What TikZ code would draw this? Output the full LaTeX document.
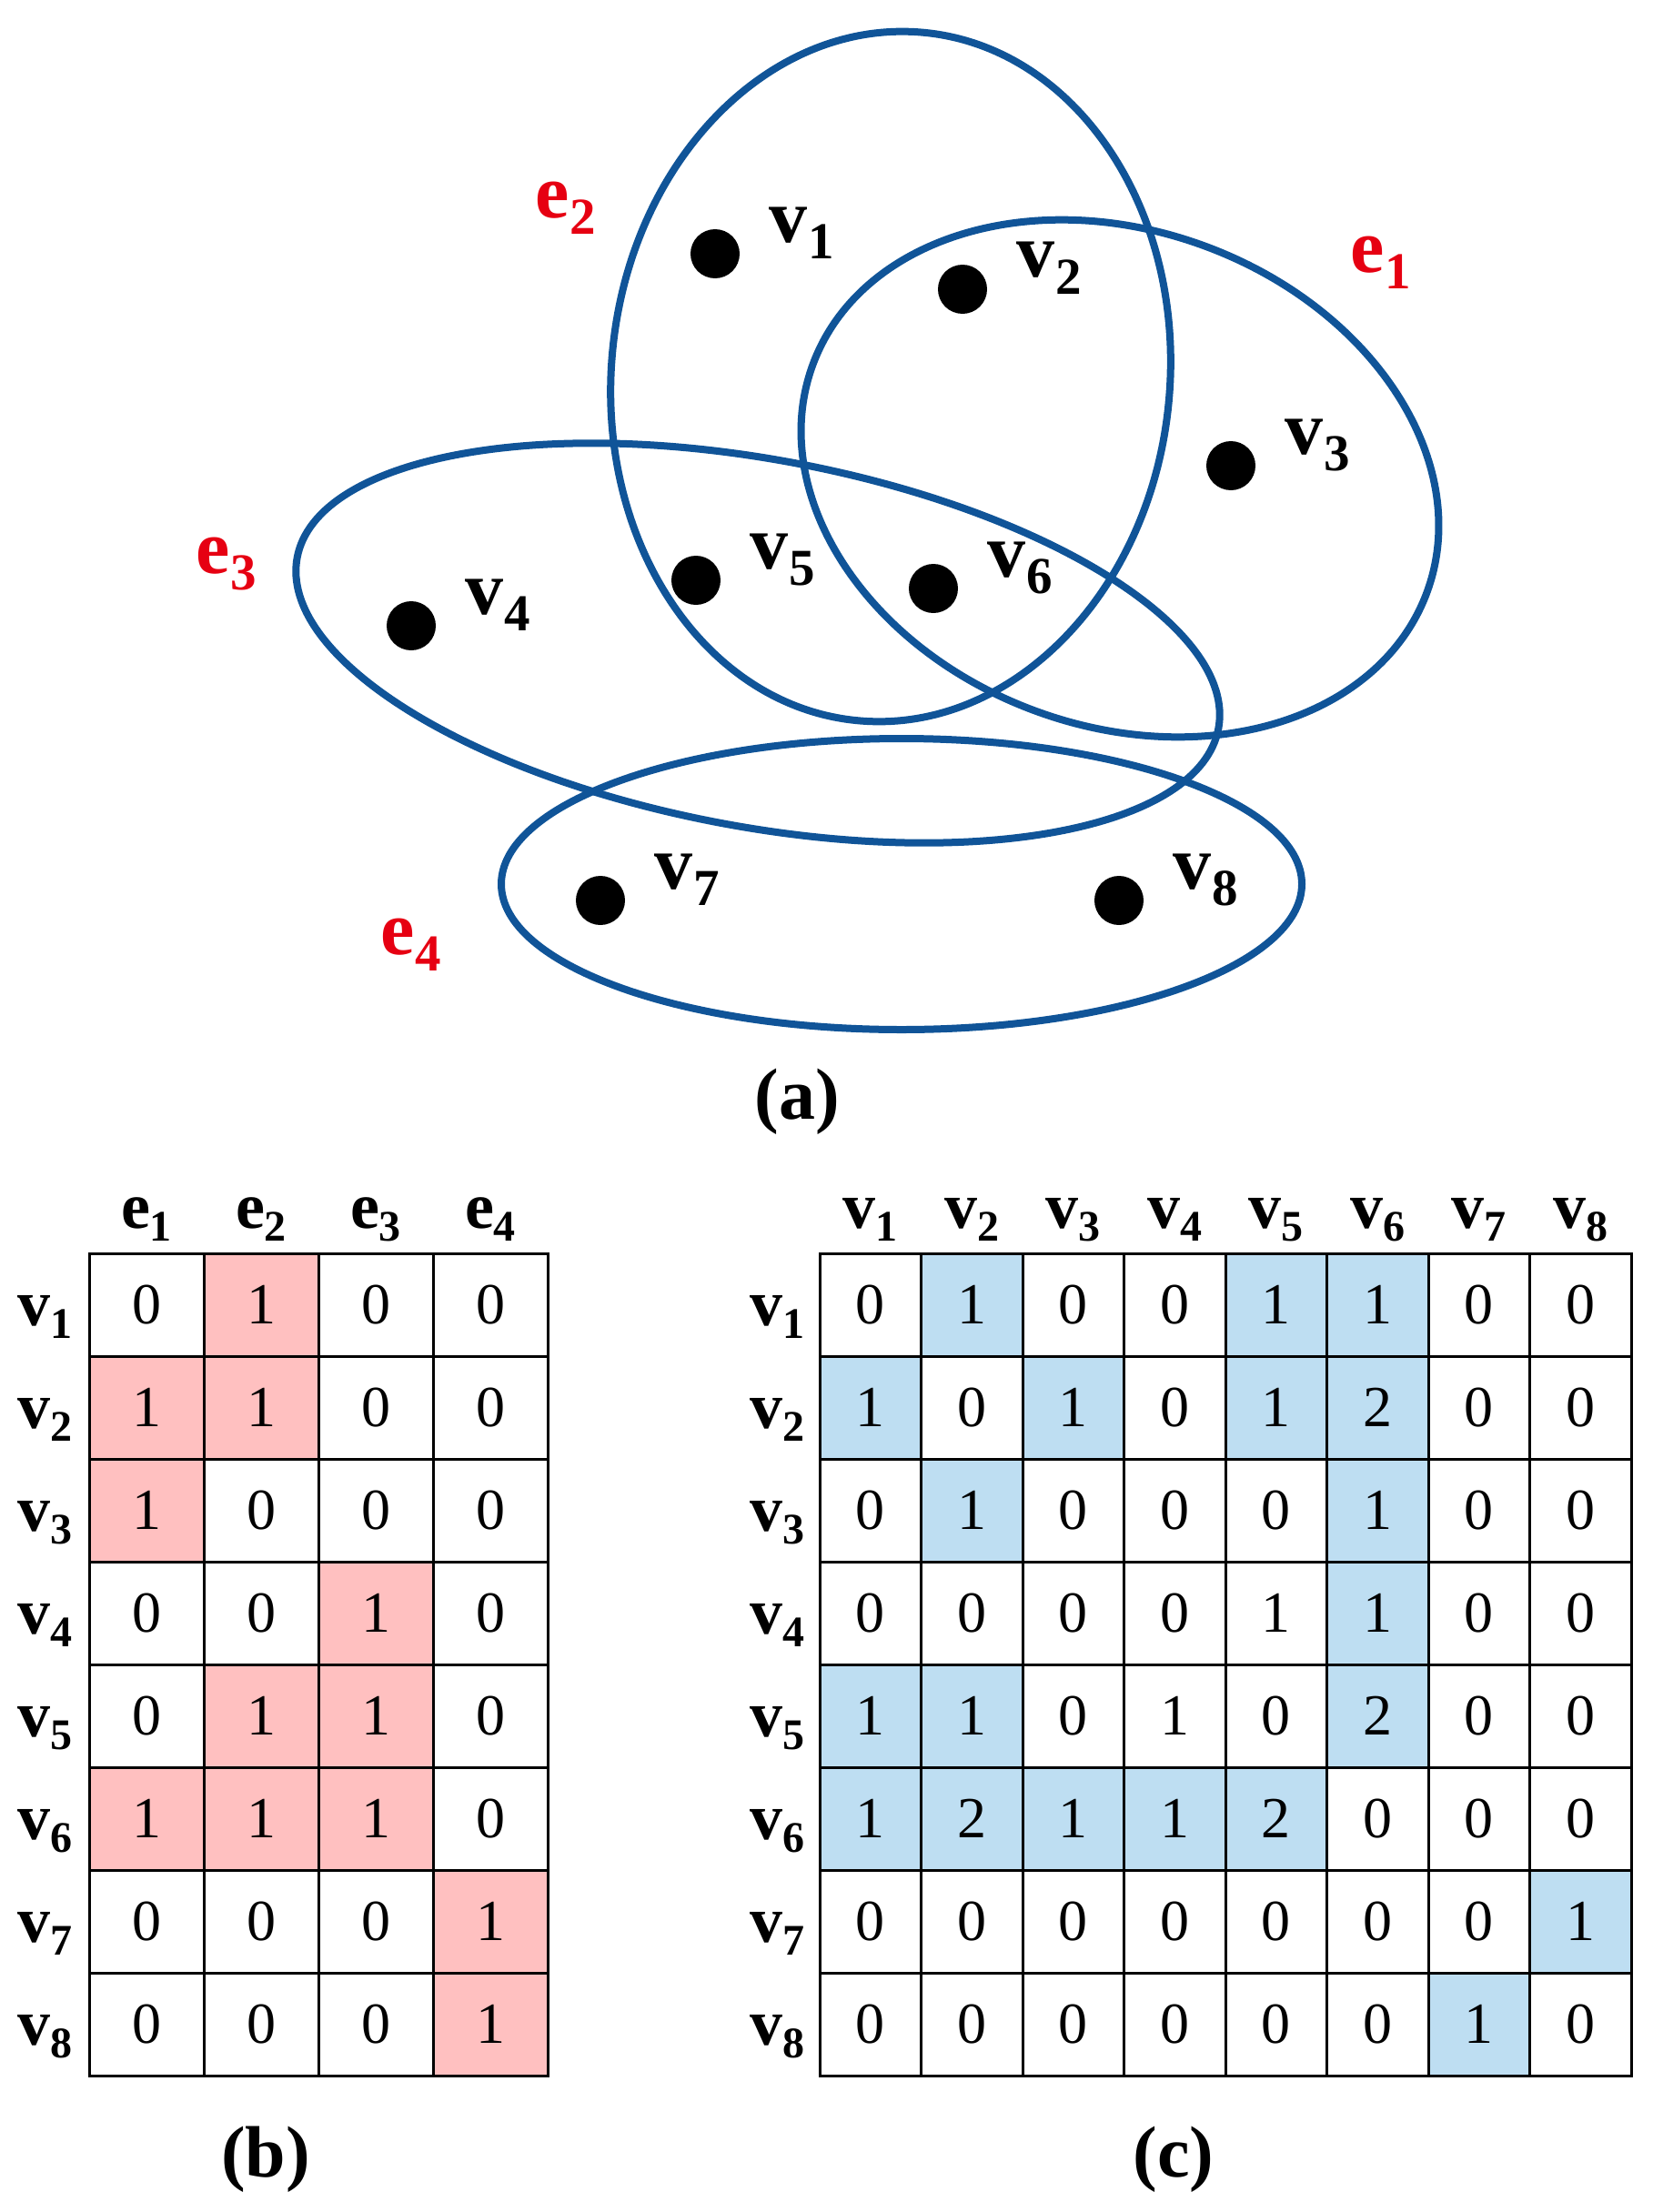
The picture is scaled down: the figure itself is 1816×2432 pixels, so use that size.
\documentclass[tikz,border=0pt]{standalone}
\usepackage{fontspec}
\setmainfont{Liberation Serif}
\usetikzlibrary{calc}
\definecolor{hblue}{RGB}{16,84,152}
\definecolor{hred}{RGB}{230,0,18}
\definecolor{hb0}{RGB}{255,255,255}
\definecolor{hb1}{RGB}{255,192,192}
\definecolor{hc0}{RGB}{255,255,255}
\definecolor{hc1}{RGB}{190,222,242}
\newcommand{\glab}[2]{\fontsize{84}{84}\selectfont\textbf{#1}\kern1pt\raisebox{-18pt}{\fontsize{57}{57}\selectfont\textbf{#2}}}
\newcommand{\tlab}[2]{\fontsize{72}{72}\selectfont\textbf{#1}\raisebox{-14pt}{\fontsize{48}{48}\selectfont\textbf{#2}}}
\begin{document}
\begin{tikzpicture}[x=1pt,y=-1pt,
  hedge/.style={draw=hblue, line width=8pt},
  vdot/.style={circle, fill=black, minimum size=54pt, inner sep=0pt},
  vlabel/.style={anchor=base west, inner sep=0pt},
  elabel/.style={anchor=base west, inner sep=0pt, text=hred},
  cellb/.style={draw=black, line width=3pt, minimum width=126pt, minimum height=113pt, inner sep=0pt, font=\fontsize{64}{64}\selectfont},
  cellc/.style={draw=black, line width=3pt, minimum width=111.5pt, minimum height=113pt, inner sep=0pt, font=\fontsize{64}{64}\selectfont},
  hdr/.style={anchor=base, inner sep=0pt},
  rlab/.style={anchor=base east, inner sep=0pt},
  capt/.style={anchor=base, inner sep=0pt, font=\fontsize{80}{80}\selectfont\bfseries}]
\useasboundingbox (0,0) rectangle (1816,2432);

% ---------- (a) hypergraph ----------
\draw[hedge, rotate around={-5.7:(979,414)}] (979,414) ellipse [x radius=307pt, y radius=380pt];
\draw[hedge, rotate around={-20.5:(1231,526)}] (1231,526) ellipse [x radius=360pt, y radius=272pt];
\draw[hedge, rotate around={-10.5:(833,707)}] (833,707) ellipse [x radius=515pt, y radius=202pt];
\draw[hedge] (991,972) ellipse [x radius=440pt, y radius=160pt];

\node[vdot] (v1) at (786,279) {};
\node[vdot] (v2) at (1058,318) {};
\node[vdot] (v3) at (1353,512) {};
\node[vdot] (v4) at (452,688) {};
\node[vdot] (v5) at (765,638) {};
\node[vdot] (v6) at (1026,647) {};
\node[vdot] (v7) at (660,990) {};
\node[vdot] (v8) at (1230,990) {};
\foreach \i in {1,...,8}
  \node[vlabel] (lv\i) at ($(v\i)+(59,-13)$) {\glab{v}{\i}};

\node[elabel] (le1) at (1484,299) {\glab{e}{1}};
\node[elabel] (le2) at (588,240) {\glab{e}{2}};
\node[elabel] (le3) at (215,630) {\glab{e}{3}};
\node[elabel] (le4) at (418,1049) {\glab{e}{4}};

\node[capt] (capa) at (876,1230) {(a)};

% ---------- (b) incidence matrix ----------
\foreach \rowdata [count=\r] in {
  {0/0,1/1,0/0,0/0},
  {1/1,1/1,0/0,0/0},
  {1/1,0/0,0/0,0/0},
  {0/0,0/0,1/1,0/0},
  {0/0,1/1,1/1,0/0},
  {1/1,1/1,1/1,0/0},
  {0/0,0/0,0/0,1/1},
  {0/0,0/0,0/0,1/1}}{
  \foreach \v/\h [count=\c] in \rowdata {
    \node[cellb, fill=hb\h] (b\r-\c) at ({35+126*\c},{1321.5+113*\r}) {\v};
  }
}
\foreach \i in {1,...,4}
  \node[hdr] (bh\i) at ({35+126*\i},1350) {\tlab{e}{\i}};
\foreach \i in {1,...,8}
  \node[rlab] (br\i) at (80,{1344.5+113*\i}) {\tlab{v}{\i}};
\node[capt] (capb) at (292,2393) {(b)};

% ---------- (c) adjacency matrix ----------
\foreach \rowdata [count=\r] in {
  {0/0,1/1,0/0,0/0,1/1,1/1,0/0,0/0},
  {1/1,0/0,1/1,0/0,1/1,2/1,0/0,0/0},
  {0/0,1/1,0/0,0/0,0/0,1/1,0/0,0/0},
  {0/0,0/0,0/0,0/0,1/0,1/1,0/0,0/0},
  {1/1,1/1,0/0,1/0,0/0,2/1,0/0,0/0},
  {1/1,2/1,1/1,1/1,2/1,0/0,0/0,0/0},
  {0/0,0/0,0/0,0/0,0/0,0/0,0/0,1/1},
  {0/0,0/0,0/0,0/0,0/0,0/0,1/1,0/0}}{
  \foreach \v/\h [count=\c] in \rowdata {
    \node[cellc, fill=hc\h] (c\r-\c) at ({845.25+111.5*\c},{1321.5+113*\r}) {\v};
  }
}
\foreach \i in {1,...,8}
  \node[hdr] (ch\i) at ({845.25+111.5*\i},1350) {\tlab{v}{\i}};
\foreach \i in {1,...,8}
  \node[rlab] (cr\i) at (885,{1344.5+113*\i}) {\tlab{v}{\i}};
\node[capt] (capc) at (1290,2393) {(c)};
\end{tikzpicture}
\end{document}
